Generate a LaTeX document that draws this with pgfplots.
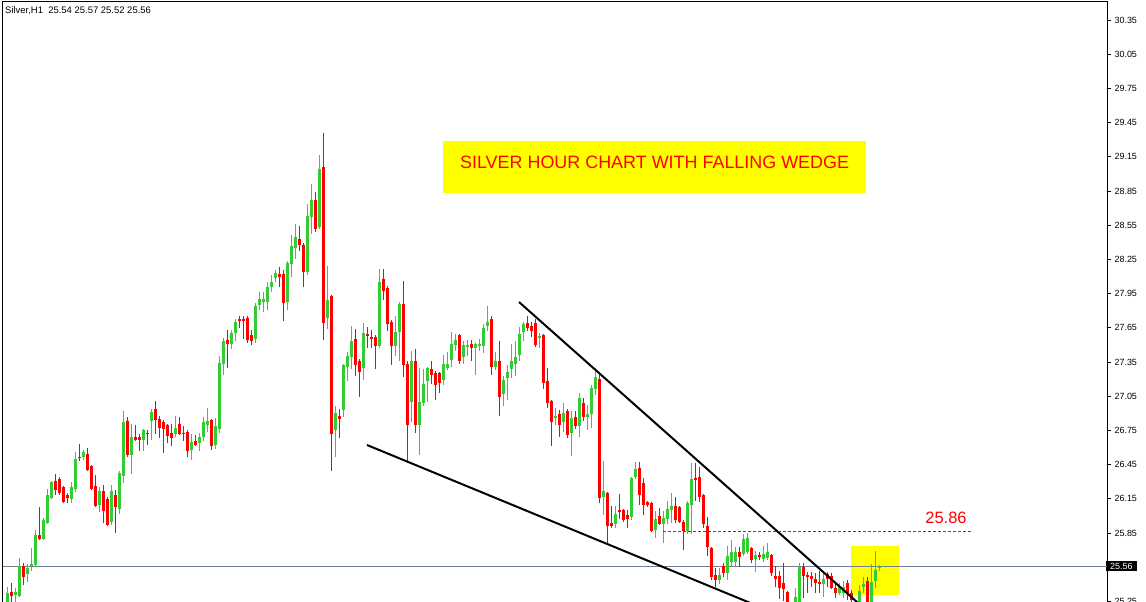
\documentclass[border=0pt]{standalone}
\usepackage{pgfplots}
\usepackage{pgfplotstable}
\usepackage{fontspec}
\setmainfont{Liberation Sans}
\pgfplotsset{compat=1.18}

\definecolor{bull}{RGB}{50,205,50}
\definecolor{bear}{RGB}{255,0,0}
\definecolor{pricegray}{RGB}{112,128,144}
\definecolor{boxyellow}{RGB}{255,255,0}

% hourly silver candles: index, open, high, low, close
\pgfplotstableread{
i o h l c
0 25.23 25.38 25.20 25.32
1 25.33 25.41 25.24 25.30
2 25.31 25.37 25.22 25.33
3 25.30 25.63 25.29 25.56
4 25.56 25.59 25.39 25.46
5 25.49 25.58 25.42 25.54
6 25.56 25.72 25.52 25.58
7 25.57 25.88 25.55 25.83
8 25.83 26.08 25.79 25.80
9 25.80 25.98 25.79 25.96
10 25.94 26.24 25.93 26.18
11 26.16 26.31 26.15 26.30
12 26.31 26.37 26.18 26.23
13 26.32 26.34 26.18 26.20
14 26.25 26.26 26.11 26.12
15 26.18 26.20 26.11 26.16
16 26.15 26.30 26.11 26.25
17 26.24 26.56 26.21 26.50
18 26.52 26.63 26.48 26.51
19 26.52 26.58 26.49 26.56
20 26.54 26.60 26.39 26.40
21 26.44 26.45 26.23 26.24
22 26.26 26.36 26.08 26.09
23 26.10 26.25 26.03 26.22
24 26.22 26.27 25.94 26.04
25 26.15 26.17 25.91 25.92
26 25.95 26.27 25.92 26.22
27 26.18 26.23 25.85 26.08
28 26.06 26.39 26.02 26.38
29 26.35 26.92 26.29 26.82
30 26.83 26.87 26.52 26.53
31 26.53 26.81 26.37 26.69
32 26.69 26.80 26.66 26.67
33 26.69 26.72 26.57 26.67
34 26.67 26.76 26.57 26.75
35 26.73 26.75 26.62 26.72
36 26.83 26.94 26.67 26.91
37 26.94 27.01 26.72 26.84
38 26.85 26.88 26.68 26.77
39 26.82 26.84 26.55 26.76
40 26.80 26.81 26.64 26.70
41 26.73 26.81 26.61 26.68
42 26.72 26.88 26.69 26.77
43 26.81 26.87 26.71 26.72
44 26.73 26.79 26.66 26.72
45 26.74 26.75 26.52 26.57
46 26.58 26.72 26.49 26.65
47 26.66 26.71 26.61 26.62
48 26.64 26.73 26.57 26.69
49 26.69 26.87 26.66 26.82
50 26.80 26.95 26.74 26.83
51 26.84 26.85 26.58 26.61
52 26.62 26.86 26.59 26.79
53 26.76 27.40 26.73 27.34
54 27.33 27.56 27.24 27.53
55 27.54 27.63 27.30 27.51
56 27.51 27.63 27.46 27.60
57 27.60 27.73 27.53 27.70
58 27.73 27.75 27.65 27.71
59 27.73 27.75 27.55 27.71
60 27.74 27.75 27.52 27.54
61 27.59 27.63 27.50 27.53
62 27.55 27.87 27.52 27.84
63 27.85 27.96 27.81 27.90
64 27.88 27.96 27.79 27.90
65 27.88 28.05 27.81 28.01
66 28.01 28.11 27.96 28.05
67 28.09 28.16 28.05 28.13
68 28.12 28.18 28.01 28.10
69 28.12 28.16 27.71 27.87
70 27.88 28.24 27.81 28.22
71 28.21 28.46 28.10 28.37
72 28.35 28.56 28.25 28.45
73 28.43 28.54 28.32 28.38
74 28.38 28.39 28.01 28.14
75 28.14 28.74 28.11 28.63
76 28.62 28.91 28.47 28.77
77 28.77 28.84 28.49 28.52
78 28.53 29.17 28.52 29.04
79 29.06 29.36 27.54 27.69
80 27.74 28.19 27.64 27.89
81 27.93 27.94 26.39 26.72
82 26.75 26.96 26.52 26.90
83 26.88 26.94 26.68 26.85
84 26.93 27.33 26.87 27.32
85 27.31 27.44 27.18 27.40
86 27.39 27.67 27.29 27.53
87 27.55 27.64 27.23 27.32
88 27.36 27.38 27.04 27.26
89 27.30 27.69 27.19 27.60
90 27.60 27.66 27.47 27.58
91 27.57 27.63 27.47 27.55
92 27.57 27.59 27.29 27.49
93 27.49 28.17 27.47 28.05
94 28.08 28.17 27.89 27.97
95 28.00 28.02 27.62 27.68
96 27.70 27.72 27.32 27.49
97 27.49 27.75 27.40 27.61
98 27.61 27.88 27.36 27.86
99 27.86 28.06 27.22 27.32
100 27.33 27.36 26.46 26.80
101 27.00 27.45 26.82 27.36
102 27.36 27.46 26.73 26.80
103 26.80 27.30 26.53 27.00
104 26.99 27.29 26.96 27.16
105 27.18 27.31 27.00 27.30
106 27.29 27.36 27.16 27.24
107 27.25 27.27 27.02 27.15
108 27.25 27.26 27.08 27.17
109 27.19 27.41 27.15 27.33
110 27.30 27.44 27.28 27.33
111 27.37 27.61 27.31 27.51
112 27.50 27.60 27.45 27.54
113 27.59 27.60 27.33 27.36
114 27.39 27.53 27.33 27.50
115 27.48 27.54 27.40 27.50
116 27.51 27.54 27.36 27.47
117 27.47 27.52 27.24 27.51
118 27.49 27.55 27.45 27.51
119 27.49 27.68 27.43 27.65
120 27.67 27.84 27.62 27.70
121 27.73 27.75 27.24 27.31
122 27.31 27.44 27.28 27.36
123 27.36 27.53 26.88 27.04
124 27.07 27.23 26.96 27.19
125 27.21 27.32 27.02 27.26
126 27.29 27.51 27.21 27.36
127 27.33 27.53 27.23 27.39
128 27.41 27.66 27.36 27.60
129 27.61 27.70 27.53 27.68
130 27.69 27.75 27.62 27.65
131 27.67 27.70 27.57 27.62
132 27.69 27.73 27.48 27.50
133 27.56 27.60 27.47 27.58
134 27.59 27.60 27.11 27.17
135 27.18 27.30 26.95 26.99
136 27.01 27.02 26.61 26.82
137 26.86 26.95 26.80 26.88
138 26.89 26.93 26.69 26.80
139 26.82 26.99 26.74 26.90
140 26.92 26.94 26.68 26.71
141 26.73 26.92 26.53 26.86
142 26.87 26.92 26.76 26.79
143 26.79 27.08 26.69 27.03
144 26.99 27.03 26.83 26.87
145 26.87 26.97 26.75 26.89
146 26.89 27.15 26.77 27.12
147 27.11 27.30 27.06 27.22
148 27.20 27.25 26.11 26.16
149 26.17 26.48 26.01 26.22
150 26.20 26.21 25.76 25.91
151 25.94 26.09 25.89 25.91
152 25.93 26.09 25.89 26.02
153 26.05 26.19 25.97 26.04
154 26.05 26.06 25.95 25.96
155 26.01 26.05 25.89 25.97
156 25.99 26.34 25.96 26.33
157 26.34 26.47 26.32 26.41
158 26.42 26.47 26.10 26.18
159 26.29 26.33 26.01 26.10
160 26.12 26.13 26.08 26.10
161 26.11 26.12 25.86 25.87
162 25.88 26.04 25.81 25.97
163 26.00 26.07 25.92 25.93
164 25.93 26.04 25.76 25.98
165 25.97 26.13 25.93 26.06
166 26.05 26.20 25.94 26.09
167 26.09 26.17 25.94 25.96
168 26.08 26.09 25.94 25.95
169 25.95 25.96 25.70 25.87
170 25.87 26.13 25.84 26.11
171 26.10 26.46 25.84 26.32
172 26.33 26.46 26.13 26.32
173 26.34 26.43 26.12 26.17
174 26.18 26.19 25.89 25.93
175 25.91 25.99 25.65 25.73
176 25.72 25.73 25.44 25.46
177 25.48 25.54 25.38 25.44
178 25.44 25.54 25.40 25.48
179 25.56 25.59 25.46 25.50
180 25.50 25.74 25.44 25.65
181 25.60 25.79 25.55 25.68
182 25.60 25.73 25.56 25.68
183 25.68 25.73 25.55 25.64
184 25.67 25.84 25.65 25.80
185 25.68 25.85 25.67 25.81
186 25.72 25.73 25.59 25.61
187 25.62 25.69 25.51 25.66
188 25.66 25.68 25.61 25.64
189 25.62 25.74 25.60 25.67
190 25.63 25.76 25.61 25.68
191 25.66 25.67 25.47 25.50
192 25.47 25.56 25.38 25.45
193 25.47 25.52 25.27 25.37
194 25.41 25.59 25.25 25.36
195 25.33 25.34 25.15 25.20
196 25.20 25.23 25.08 25.12
197 25.18 25.37 25.12 25.29
198 25.22 25.59 25.18 25.55
199 25.55 25.59 25.28 25.47
200 25.48 25.51 25.32 25.46
201 25.47 25.51 25.38 25.45
202 25.45 25.50 25.32 25.41
203 25.42 25.52 25.32 25.40
204 25.40 25.50 25.29 25.45
205 25.49 25.51 25.38 25.45
206 25.47 25.50 25.36 25.37
207 25.37 25.41 25.28 25.32
208 25.32 25.41 25.31 25.38
209 25.32 25.43 25.28 25.38
210 25.41 25.44 25.26 25.32
211 25.32 25.35 25.20 25.26
212 25.22 25.24 25.12 25.16
213 25.20 25.39 25.15 25.34
214 25.38 25.46 25.32 25.40
215 25.43 25.46 25.15 25.20
216 25.22 25.58 25.17 25.42
217 25.43 25.69 25.37 25.53
218 25.54 25.57 25.52 25.56
}\candles

\begin{document}
\begin{tikzpicture}
\begin{axis}[
    scale only axis,
    width=1104.5bp, height=600.5bp,
    xmin=-1.125, xmax=275,
    ymin=25.245, ymax=30.512,
    axis line style={draw=none},
    xtick=\empty,
    ytick={25.25,25.85,26.15,26.45,26.75,27.05,27.35,27.65,27.95,28.25,28.55,28.85,29.15,29.45,29.75,30.05,30.35},
    ytick pos=right,
    yticklabel pos=right,
    tick align=outside,
    major tick length=4bp,
    tick style={black, line width=0.8bp},
    scaled y ticks=false,
    yticklabel style={font=\fontsize{9}{10}\selectfont,
        /pgf/number format/fixed, /pgf/number format/fixed zerofill,
        /pgf/number format/precision=2, /pgf/number format/assume math mode=true},
    extra y ticks={25.56},
    extra y tick style={
        major tick length=0pt,
        yticklabel style={fill=black, text=white, inner xsep=4bp, inner ysep=1.5bp, xshift=-1bp}},
]

% background boxes
\fill[boxyellow] (axis cs:109,28.832) rectangle (axis cs:214.75,29.289);
\fill[boxyellow] (axis cs:211,25.31) rectangle (axis cs:223,25.74);

% current price line
\addplot[pricegray, line width=1bp, forget plot] coordinates {(-1.125,25.56) (275,25.56)};

% up candles: wicks then bodies
\addplot[draw=none, mark=none, forget plot,
    restrict expr to domain={\thisrow{c}-\thisrow{o}}{0:100},
    error bars/.cd, y dir=both, y explicit, error mark=none,
    error bar style={line width=1bp, draw=bull}]
    table[x=i, y expr={(\thisrow{h}+\thisrow{l})/2}, y error expr={(\thisrow{h}-\thisrow{l})/2}] {\candles};
\addplot[draw=none, mark=none, forget plot,
    restrict expr to domain={\thisrow{c}-\thisrow{o}}{0:100},
    error bars/.cd, y dir=both, y explicit, error mark=none,
    error bar style={line width=3bp, draw=bull}]
    table[x=i, y expr={(\thisrow{o}+\thisrow{c})/2}, y error expr={abs(\thisrow{c}-\thisrow{o})/2}] {\candles};

% down candles
\addplot[draw=none, mark=none, forget plot,
    restrict expr to domain={\thisrow{c}-\thisrow{o}}{-100:-0.001},
    error bars/.cd, y dir=both, y explicit, error mark=none,
    error bar style={line width=1bp, draw=bear}]
    table[x=i, y expr={(\thisrow{h}+\thisrow{l})/2}, y error expr={(\thisrow{h}-\thisrow{l})/2}] {\candles};
\addplot[draw=none, mark=none, forget plot,
    restrict expr to domain={\thisrow{c}-\thisrow{o}}{-100:-0.001},
    error bars/.cd, y dir=both, y explicit, error mark=none,
    error bar style={line width=3bp, draw=bear}]
    table[x=i, y expr={(\thisrow{o}+\thisrow{c})/2}, y error expr={abs(\thisrow{c}-\thisrow{o})/2}] {\candles};

% wedge lines
\addplot[black, line width=2bp, forget plot] coordinates {(128,27.876) (214,25.198)};
\addplot[black, line width=2bp, forget plot] coordinates {(90,26.622) (186,25.234)};

% 25.86 level
\addplot[bear, line width=1.2bp, dash pattern=on 3bp off 2bp, forget plot] coordinates {(164,25.86) (241.5,25.86)};
\node[text=bear, font=\fontsize{16.5}{18}\selectfont, inner sep=0] at (axis cs:234.75,25.98) {25.86};

\node[text=bear, font=\fontsize{18}{20}\selectfont, inner sep=0] at (axis cs:161.9,29.104) {SILVER HOUR CHART WITH FALLING WEDGE};

\node[anchor=west, font=\fontsize{9.5}{11}\selectfont, inner sep=0] at (axis cs:-0.5,30.43) {Silver,H1\ \ 25.54 25.57 25.52 25.56};
\end{axis}
\draw[black, line width=1bp] (current axis.south west) -- (current axis.north west) -- (current axis.north east) -- (current axis.south east);
\pgfresetboundingbox
\path ([xshift=-2.5bp]current axis.south west) rectangle ([xshift=39bp,yshift=1.5bp]current axis.north east);
\end{tikzpicture}
\end{document}
